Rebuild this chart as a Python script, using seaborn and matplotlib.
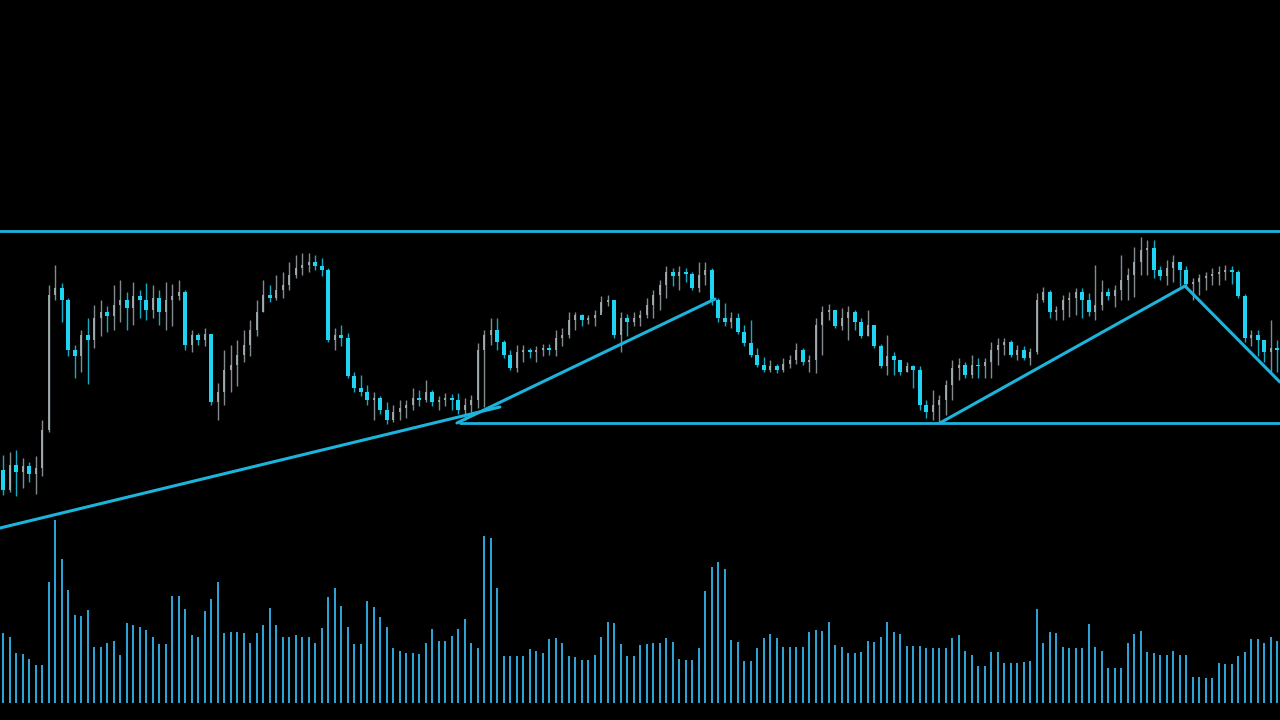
import numpy as np
import matplotlib
matplotlib.use("Agg")
import matplotlib.pyplot as plt
import seaborn as sns

# price levels (chart points), one entry per candle
first_open = 250
close = [230, 255, 248, 254, 246, 252, 290, 425, 432, 420, 370, 364, 385, 380, 402, 408, 404,
         415, 420, 412, 424, 420, 410, 422, 408, 420, 424, 428, 375, 385, 380, 386, 318, 328,
         350, 355, 365, 375, 390, 408, 425, 422, 430, 435, 445, 452, 455, 458, 454, 450, 380,
         385, 382, 344, 332, 328, 320, 322, 310, 300, 308, 312, 315, 322, 320, 328, 318, 320,
         322, 320, 310, 315, 320, 370, 385, 390, 378, 365, 352, 368, 370, 368, 370, 372, 370,
         382, 385, 400, 405, 400, 402, 405, 418, 420, 385, 402, 398, 402, 405, 415, 425, 435,
         448, 444, 448, 446, 432, 445, 450, 420, 402, 398, 402, 388, 377, 365, 355, 350, 354,
         350, 356, 360, 370, 358, 360, 395, 408, 410, 394, 402, 408, 398, 384, 395, 374, 354,
         364, 360, 348, 354, 350, 315, 308, 315, 320, 335, 352, 355, 345, 355, 354, 358, 370,
         375, 378, 365, 370, 362, 368, 420, 428, 408, 410, 420, 422, 428, 420, 408, 415, 428,
         424, 430, 440, 445, 458, 470, 472, 450, 444, 452, 458, 450, 436, 438, 442, 444, 446,
         448, 450, 448, 424, 382, 385, 380, 368, 372, 370]
high = [265, 268, 270, 262, 258, 264, 300, 435, 455, 437, 422, 375, 390, 402, 415, 420, 414,
        435, 440, 428, 438, 430, 437, 435, 430, 438, 436, 440, 430, 390, 387, 392, 384, 337,
        370, 375, 380, 390, 400, 420, 440, 435, 445, 448, 458, 465, 467, 467, 465, 462, 452,
        392, 395, 387, 348, 345, 335, 328, 324, 318, 315, 320, 320, 332, 330, 340, 330, 324,
        327, 326, 327, 322, 325, 377, 390, 402, 402, 380, 370, 375, 375, 372, 374, 376, 376,
        390, 392, 408, 408, 406, 405, 410, 424, 425, 420, 408, 406, 408, 410, 422, 430, 440,
        454, 452, 454, 452, 448, 458, 458, 452, 422, 417, 408, 407, 395, 400, 372, 363, 360,
        356, 362, 365, 377, 372, 365, 402, 414, 416, 410, 412, 414, 410, 402, 410, 392, 376,
        385, 368, 360, 358, 355, 354, 320, 330, 325, 340, 360, 362, 358, 365, 362, 362, 378,
        382, 382, 380, 375, 374, 372, 427, 433, 430, 414, 425, 428, 432, 432, 427, 455, 440,
        432, 435, 465, 452, 473, 483, 480, 480, 454, 460, 465, 458, 454, 442, 446, 448, 452,
        454, 455, 454, 450, 426, 390, 390, 377, 400, 380]
low = [225, 228, 224, 232, 238, 226, 244, 288, 420, 398, 364, 342, 348, 336, 372, 384, 388,
       390, 398, 390, 395, 402, 400, 402, 395, 390, 394, 420, 370, 368, 375, 374, 315, 300,
       315, 328, 334, 358, 364, 384, 408, 418, 420, 422, 430, 442, 445, 448, 450, 444, 378,
       370, 374, 342, 328, 324, 315, 300, 306, 296, 298, 300, 302, 310, 314, 318, 314, 310,
       314, 310, 306, 300, 308, 312, 313, 375, 370, 362, 350, 348, 358, 362, 358, 364, 365,
       364, 374, 382, 390, 394, 396, 394, 408, 414, 382, 368, 384, 394, 394, 402, 402, 410,
       422, 434, 430, 438, 430, 428, 435, 415, 398, 394, 392, 386, 374, 363, 353, 348, 348,
       347, 348, 352, 356, 355, 348, 347, 365, 400, 392, 390, 380, 390, 382, 384, 372, 352,
       345, 345, 345, 348, 332, 310, 302, 300, 298, 305, 320, 340, 342, 342, 342, 342, 342,
       355, 365, 363, 360, 360, 355, 366, 418, 402, 400, 400, 403, 405, 402, 404, 400, 410,
       420, 413, 420, 420, 423, 445, 445, 442, 440, 435, 438, 434, 432, 420, 425, 430, 435,
       435, 440, 436, 422, 378, 374, 364, 358, 348, 348]

# volume per candle
volume = [70, 66, 50, 49, 44, 38, 38, 121, 183, 144, 113, 88, 87, 93, 56, 56, 60, 62, 48,
          80, 78, 76, 73, 66, 59, 59, 107, 107, 94, 68, 66, 92, 104, 121, 70, 71, 71, 70, 60,
          70, 78, 95, 78, 66, 66, 68, 66, 66, 60, 75, 106, 115, 97, 76, 59, 59, 102, 96, 86,
          76, 55, 52, 50, 50, 49, 60, 74, 62, 62, 67, 74, 84, 60, 55, 167, 165, 115, 47, 47,
          47, 47, 54, 52, 50, 64, 65, 60, 47, 46, 43, 43, 48, 66, 81, 80, 59, 47, 47,
          58, 59, 60, 60, 65, 61, 44, 43, 43, 55, 112, 136, 141, 134, 63, 61, 42, 42, 55, 65,
          69, 65, 56, 56, 56, 56, 71, 73, 72, 81, 58, 56, 50, 50, 51, 62, 61, 66, 81, 71,
          69, 57, 57, 57, 55, 55, 55, 55, 65, 68, 52, 48, 37, 37, 51, 51, 40, 40, 40, 41,
          42, 94, 60, 71, 70, 56, 55, 55, 55, 79, 56, 52, 35, 35, 35, 60, 69, 72, 51, 50,
          48, 48, 52, 48, 48, 26, 26, 25, 25, 40, 39, 39, 47, 51, 64, 64, 60, 66, 62]

# drawn levels and trend lines: (candle index, price)
resistance = 489
support_start, support = 70.3, 297
trend_lines = [
    ([-0.5, 76.4], [192, 313]),
    ([69.8, 109.5], [297, 421]),
    ([144.1, 181.8], [297, 434]),
    ([181.8, 196.4], [434, 338]),
]

sns.set_theme(style="dark", rc={"axes.facecolor": "black", "figure.facecolor": "black"})

n = min(len(close), len(high), len(low), len(volume))
idx = np.arange(n)
c = np.array(close[:n], dtype=float)
o = np.concatenate([[first_open], c[:-1]])
h = np.array(high[:n], dtype=float)
l = np.array(low[:n], dtype=float)
vol = np.array(volume[:n], dtype=float)

CYAN = "#1fd3f2"
GREY = "#a3afb3"
LINE = "#1db4dc"
VOLC = "#2da2d4"

fig = plt.figure(figsize=(12.8, 7.2), dpi=100)
ax = fig.add_axes([0, 0, 1, 1])
axv = fig.add_axes([0, 17 / 720, 1, 200 / 720])
axv.patch.set_alpha(0)

# volume
sns.barplot(x=idx, y=vol, native_scale=True, width=0.34, color=VOLC, saturation=1,
            linewidth=0, errorbar=None, ax=axv)
axv.set_xlim(-0.5, 196.42)
axv.set_ylim(0, 200)
axv.set_axis_off()

# candles
up = c >= o
body_lo = np.minimum(o, c)
body_h = np.maximum(np.abs(c - o), 1.5)
ax.vlines(idx[up], l[up], h[up], color=GREY, lw=1.0, alpha=0.8)
ax.bar(idx[up], body_h[up], bottom=body_lo[up], width=0.3, color=GREY, alpha=0.9, linewidth=0)
ax.vlines(idx[~up], l[~up], h[~up], color=CYAN, lw=1.0, alpha=0.8)
ax.bar(idx[~up], body_h[~up], bottom=body_lo[~up], width=0.68, color=CYAN, linewidth=0)

# levels and trend lines
ax.axhline(resistance, color=LINE, lw=2)
ax.plot([support_start, 197], [support, support], color=LINE, lw=2)
for xs, ys in trend_lines:
    ax.plot(xs, ys, color=LINE, lw=2.2, solid_capstyle="round")

ax.set_xlim(-0.5, 196.42)
ax.set_ylim(0, 720)
ax.set_axis_off()

fig.savefig("out.png", dpi=100, facecolor="black")
